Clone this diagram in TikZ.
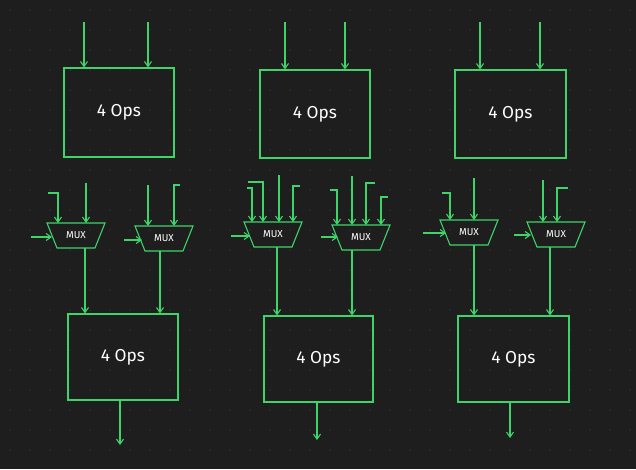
\documentclass[tikz,border=0pt]{standalone}
\usepackage{fontspec}
\setmainfont{Fira Sans}
\begin{document}
\begin{tikzpicture}[x=1pt,y=-1pt,
 g/.style={draw=gr,line width=1.1pt},
 ar/.style={g,-{Straight Barb[length=5pt,width=7pt]}},
 box/.style={g},
 lbl/.style={text=white,font=\LARGE},
 ml/.style={text=white,font=\normalsize}]
\definecolor{gr}{HTML}{3FD46A}
\definecolor{bg}{HTML}{1E1E1E}
\usetikzlibrary{arrows.meta}
\fill[bg] (0,0) rectangle (636,469);
\foreach \x in {10,30,...,630} \foreach \y in {10,30,...,460} \fill[white!30!bg] (\x,\y) circle (0.5);
% top boxes
\node[box,minimum width=110,minimum height=89,inner sep=0,lbl] (t1) at (119,112.5) {4 Ops};
\node[box,minimum width=110,minimum height=88,inner sep=0,lbl] (t2) at (315,114) {4 Ops};
\node[box,minimum width=111,minimum height=88,inner sep=0,lbl] (t3) at (510.5,114) {4 Ops};
\coordinate (a1) at (84,22); \coordinate (a2) at (148,22);
\coordinate (a3) at (285,22); \coordinate (a4) at (345,22);
\coordinate (a5) at (480,22); \coordinate (a6) at (540,22);
\draw[ar] (a1) -- (a1 |- t1.north); \draw[ar] (a2) -- (a2 |- t1.north);
\draw[ar] (a3) -- (a3 |- t2.north); \draw[ar] (a4) -- (a4 |- t2.north);
\draw[ar] (a5) -- (a5 |- t3.north); \draw[ar] (a6) -- (a6 |- t3.north);
% bottom boxes
\node[box,minimum width=110,minimum height=86,inner sep=0,lbl] (b1) at (123,357) {4 Ops};
\node[box,minimum width=109,minimum height=86,inner sep=0,lbl] (b2) at (318.5,359) {4 Ops};
\node[box,minimum width=111,minimum height=86,inner sep=0,lbl] (b3) at (513.5,359) {4 Ops};
% muxes: center x, top y, output x
\newcommand{\mymux}[4]{%
 \draw[g] (#2-29,#3) -- (#2+29,#3) -- (#2+19,#3+25) -- (#2-19,#3+25) -- cycle;
 \node[ml] (#1) at (#2,#3+12.5) {MUX};
 \coordinate (#1t) at (#2,#3); \coordinate (#1b) at (#4,#3+25);}
\mymux{m1}{76}{223}{85}
\mymux{m2}{164}{226}{160}
\mymux{m3}{273}{222}{277}
\mymux{m4}{361}{225}{352}
\mymux{m5}{469}{220}{474}
\mymux{m6}{556}{222}{550}
% side inputs
\coordinate (s1) at (31,237); \draw[ar] (s1) -- (52,237);
\coordinate (s2) at (124,240); \draw[ar] (s2) -- (142,240);
\coordinate (s3) at (231,236); \draw[ar] (s3) -- (250,236);
\coordinate (s4) at (321,237); \draw[ar] (s4) -- (338,237);
\coordinate (s5) at (423,233); \draw[ar] (s5) -- (446,233);
\coordinate (s6) at (514,235); \draw[ar] (s6) -- (531,235);
% top inputs
\draw[ar] (48,193) -- (58,193) -- (58,223);
\draw[ar] (86,183) -- (86,223);
\draw[ar] (148,185) -- (148,226);
\draw[ar] (180,185) -- (174,185) -- (174,226);
\draw[ar] (247,188) -- (252,188) -- (252,222);
\draw[ar] (248,182) -- (263,182) -- (263,222);
\draw[ar] (279,175) -- (279,222);
\draw[ar] (300,186) -- (293,186) -- (293,222);
\draw[ar] (330,190) -- (337,190) -- (337,225);
\draw[ar] (352,176) -- (352,225);
\draw[ar] (375,183) -- (366,183) -- (366,225);
\draw[ar] (388,197) -- (381,197) -- (381,225);
\draw[ar] (442,193) -- (450,193) -- (450,220);
\draw[ar] (474,178) -- (474,220);
\draw[ar] (543,180) -- (543,222);
\draw[ar] (568,188) -- (557,188) -- (557,222);
% mux outputs
\draw[ar] (m1b) -- (m1b |- b1.north);
\draw[ar] (m2b) -- (m2b |- b1.north);
\draw[ar] (m3b) -- (m3b |- b2.north);
\draw[ar] (m4b) -- (m4b |- b2.north);
\draw[ar] (m5b) -- (m5b |- b3.north);
\draw[ar] (m6b) -- (m6b |- b3.north);
% outputs
\coordinate (o1) at (120,445); \coordinate (o2) at (317,440); \coordinate (o3) at (510,438);
\draw[ar] (o1 |- b1.south) -- (o1);
\draw[ar] (o2 |- b2.south) -- (o2);
\draw[ar] (o3 |- b3.south) -- (o3);
\end{tikzpicture}
\end{document}
